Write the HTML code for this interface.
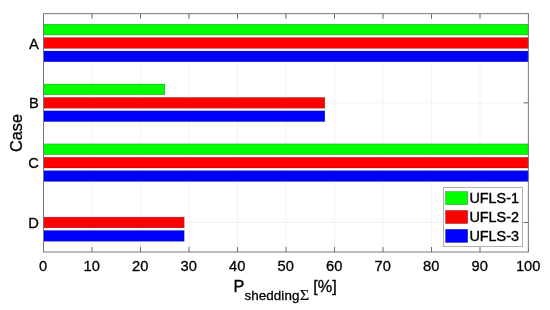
<!DOCTYPE html><html><head><meta charset="utf-8"><style>html,body{margin:0;padding:0;background:#fff;overflow:hidden}svg{display:block}text{font-family:"Liberation Sans",Arial,sans-serif;fill:#000;stroke:#000;stroke-width:0.3px}</style></head><body>
<svg width="550" height="310" viewBox="0 0 550 310">
<rect x="0" y="0" width="550" height="310" fill="#fff"/>
<line x1="92.00" y1="13.65" x2="92.00" y2="252.0" stroke="#f3f3f3" stroke-width="1.0"/>
<line x1="140.50" y1="13.65" x2="140.50" y2="252.0" stroke="#f3f3f3" stroke-width="1.0"/>
<line x1="189.00" y1="13.65" x2="189.00" y2="252.0" stroke="#f3f3f3" stroke-width="1.0"/>
<line x1="237.50" y1="13.65" x2="237.50" y2="252.0" stroke="#f3f3f3" stroke-width="1.0"/>
<line x1="286.00" y1="13.65" x2="286.00" y2="252.0" stroke="#f3f3f3" stroke-width="1.0"/>
<line x1="334.50" y1="13.65" x2="334.50" y2="252.0" stroke="#f3f3f3" stroke-width="1.0"/>
<line x1="383.00" y1="13.65" x2="383.00" y2="252.0" stroke="#f3f3f3" stroke-width="1.0"/>
<line x1="431.50" y1="13.65" x2="431.50" y2="252.0" stroke="#f3f3f3" stroke-width="1.0"/>
<line x1="480.00" y1="13.65" x2="480.00" y2="252.0" stroke="#f3f3f3" stroke-width="1.0"/>
<line x1="43.5" y1="43.00" x2="528.5" y2="43.00" stroke="#f3f3f3" stroke-width="1.0"/>
<line x1="43.5" y1="102.83" x2="528.5" y2="102.83" stroke="#f3f3f3" stroke-width="1.0"/>
<line x1="43.5" y1="162.66" x2="528.5" y2="162.66" stroke="#f3f3f3" stroke-width="1.0"/>
<line x1="43.5" y1="222.49" x2="528.5" y2="222.49" stroke="#f3f3f3" stroke-width="1.0"/>
<line x1="43.50" y1="13.65" x2="43.50" y2="18.65" stroke="#6a6a6a" stroke-width="1.0"/>
<line x1="43.50" y1="252.0" x2="43.50" y2="247.0" stroke="#6a6a6a" stroke-width="1.0"/>
<line x1="92.00" y1="13.65" x2="92.00" y2="18.65" stroke="#6a6a6a" stroke-width="1.0"/>
<line x1="92.00" y1="252.0" x2="92.00" y2="247.0" stroke="#6a6a6a" stroke-width="1.0"/>
<line x1="140.50" y1="13.65" x2="140.50" y2="18.65" stroke="#6a6a6a" stroke-width="1.0"/>
<line x1="140.50" y1="252.0" x2="140.50" y2="247.0" stroke="#6a6a6a" stroke-width="1.0"/>
<line x1="189.00" y1="13.65" x2="189.00" y2="18.65" stroke="#6a6a6a" stroke-width="1.0"/>
<line x1="189.00" y1="252.0" x2="189.00" y2="247.0" stroke="#6a6a6a" stroke-width="1.0"/>
<line x1="237.50" y1="13.65" x2="237.50" y2="18.65" stroke="#6a6a6a" stroke-width="1.0"/>
<line x1="237.50" y1="252.0" x2="237.50" y2="247.0" stroke="#6a6a6a" stroke-width="1.0"/>
<line x1="286.00" y1="13.65" x2="286.00" y2="18.65" stroke="#6a6a6a" stroke-width="1.0"/>
<line x1="286.00" y1="252.0" x2="286.00" y2="247.0" stroke="#6a6a6a" stroke-width="1.0"/>
<line x1="334.50" y1="13.65" x2="334.50" y2="18.65" stroke="#6a6a6a" stroke-width="1.0"/>
<line x1="334.50" y1="252.0" x2="334.50" y2="247.0" stroke="#6a6a6a" stroke-width="1.0"/>
<line x1="383.00" y1="13.65" x2="383.00" y2="18.65" stroke="#6a6a6a" stroke-width="1.0"/>
<line x1="383.00" y1="252.0" x2="383.00" y2="247.0" stroke="#6a6a6a" stroke-width="1.0"/>
<line x1="431.50" y1="13.65" x2="431.50" y2="18.65" stroke="#6a6a6a" stroke-width="1.0"/>
<line x1="431.50" y1="252.0" x2="431.50" y2="247.0" stroke="#6a6a6a" stroke-width="1.0"/>
<line x1="480.00" y1="13.65" x2="480.00" y2="18.65" stroke="#6a6a6a" stroke-width="1.0"/>
<line x1="480.00" y1="252.0" x2="480.00" y2="247.0" stroke="#6a6a6a" stroke-width="1.0"/>
<line x1="528.50" y1="13.65" x2="528.50" y2="18.65" stroke="#6a6a6a" stroke-width="1.0"/>
<line x1="528.50" y1="252.0" x2="528.50" y2="247.0" stroke="#6a6a6a" stroke-width="1.0"/>
<line x1="43.5" y1="43.00" x2="48.5" y2="43.00" stroke="#6a6a6a" stroke-width="1.0"/>
<line x1="528.5" y1="43.00" x2="523.5" y2="43.00" stroke="#6a6a6a" stroke-width="1.0"/>
<line x1="43.5" y1="102.83" x2="48.5" y2="102.83" stroke="#6a6a6a" stroke-width="1.0"/>
<line x1="528.5" y1="102.83" x2="523.5" y2="102.83" stroke="#6a6a6a" stroke-width="1.0"/>
<line x1="43.5" y1="162.66" x2="48.5" y2="162.66" stroke="#6a6a6a" stroke-width="1.0"/>
<line x1="528.5" y1="162.66" x2="523.5" y2="162.66" stroke="#6a6a6a" stroke-width="1.0"/>
<line x1="43.5" y1="222.49" x2="48.5" y2="222.49" stroke="#6a6a6a" stroke-width="1.0"/>
<line x1="528.5" y1="222.49" x2="523.5" y2="222.49" stroke="#6a6a6a" stroke-width="1.0"/>
<rect x="43.50" y="24.25" width="485.00" height="10.70" fill="#00ff00" stroke="#000" stroke-opacity="0.45" stroke-width="0.5"/>
<rect x="43.50" y="37.65" width="485.00" height="10.70" fill="#ff0000" stroke="#000" stroke-opacity="0.45" stroke-width="0.5"/>
<rect x="43.50" y="51.05" width="485.00" height="10.70" fill="#0000ff" stroke="#000" stroke-opacity="0.45" stroke-width="0.5"/>
<rect x="43.50" y="84.08" width="121.25" height="10.70" fill="#00ff00" stroke="#000" stroke-opacity="0.45" stroke-width="0.5"/>
<rect x="43.50" y="97.48" width="281.30" height="10.70" fill="#ff0000" stroke="#000" stroke-opacity="0.45" stroke-width="0.5"/>
<rect x="43.50" y="110.88" width="281.30" height="10.70" fill="#0000ff" stroke="#000" stroke-opacity="0.45" stroke-width="0.5"/>
<rect x="43.50" y="143.91" width="485.00" height="10.70" fill="#00ff00" stroke="#000" stroke-opacity="0.45" stroke-width="0.5"/>
<rect x="43.50" y="157.31" width="485.00" height="10.70" fill="#ff0000" stroke="#000" stroke-opacity="0.45" stroke-width="0.5"/>
<rect x="43.50" y="170.71" width="485.00" height="10.70" fill="#0000ff" stroke="#000" stroke-opacity="0.45" stroke-width="0.5"/>
<rect x="43.50" y="217.14" width="140.65" height="10.70" fill="#ff0000" stroke="#000" stroke-opacity="0.45" stroke-width="0.5"/>
<rect x="43.50" y="230.54" width="140.65" height="10.70" fill="#0000ff" stroke="#000" stroke-opacity="0.45" stroke-width="0.5"/>
<rect x="43.5" y="13.65" width="484.85" height="238.35" fill="none" stroke="#787878" stroke-width="1.0"/>
<text x="43.20" y="270.6" font-size="14.7" text-anchor="middle">0</text>
<text x="91.70" y="270.6" font-size="14.7" text-anchor="middle">10</text>
<text x="140.20" y="270.6" font-size="14.7" text-anchor="middle">20</text>
<text x="188.70" y="270.6" font-size="14.7" text-anchor="middle">30</text>
<text x="237.20" y="270.6" font-size="14.7" text-anchor="middle">40</text>
<text x="285.70" y="270.6" font-size="14.7" text-anchor="middle">50</text>
<text x="334.20" y="270.6" font-size="14.7" text-anchor="middle">60</text>
<text x="382.70" y="270.6" font-size="14.7" text-anchor="middle">70</text>
<text x="431.20" y="270.6" font-size="14.7" text-anchor="middle">80</text>
<text x="479.70" y="270.6" font-size="14.7" text-anchor="middle">90</text>
<text x="528.20" y="270.6" font-size="14.7" text-anchor="middle">100</text>
<text x="38.8" y="48.60" font-size="14.7" text-anchor="end">A</text>
<text x="38.8" y="108.43" font-size="14.7" text-anchor="end">B</text>
<text x="38.8" y="168.26" font-size="14.7" text-anchor="end">C</text>
<text x="38.8" y="228.09" font-size="14.7" text-anchor="end">D</text>
<text x="233.5" y="291.8" font-size="16.3">P</text>
<text x="244.4" y="299.9" font-size="13.4" letter-spacing="0.1">shedding</text>
<text transform="translate(299.7,300.3) scale(1.18,1)" font-size="13.8" style="font-family:'Liberation Serif',serif;stroke-width:0.15px">Σ</text>
<text x="313.3" y="291.8" font-size="16.3">[%]</text>
<text transform="translate(21.6,133) rotate(-90)" font-size="16.3" text-anchor="middle">Case</text>
<rect x="443.5" y="187.5" width="79" height="59" fill="#fff" stroke="#b0b0b0" stroke-width="1"/>
<rect x="445.5" y="191.50" width="22.2" height="13.2" fill="#00ff00" stroke="#000" stroke-opacity="0.45" stroke-width="0.5"/>
<text x="469.4" y="203.40" font-size="14.4" style="stroke-width:0.4px">UFLS-1</text>
<rect x="445.5" y="210.40" width="22.2" height="13.2" fill="#ff0000" stroke="#000" stroke-opacity="0.45" stroke-width="0.5"/>
<text x="469.4" y="222.30" font-size="14.4" style="stroke-width:0.4px">UFLS-2</text>
<rect x="445.5" y="229.30" width="22.2" height="13.2" fill="#0000ff" stroke="#000" stroke-opacity="0.45" stroke-width="0.5"/>
<text x="469.4" y="241.20" font-size="14.4" style="stroke-width:0.4px">UFLS-3</text>
</svg></body></html>
